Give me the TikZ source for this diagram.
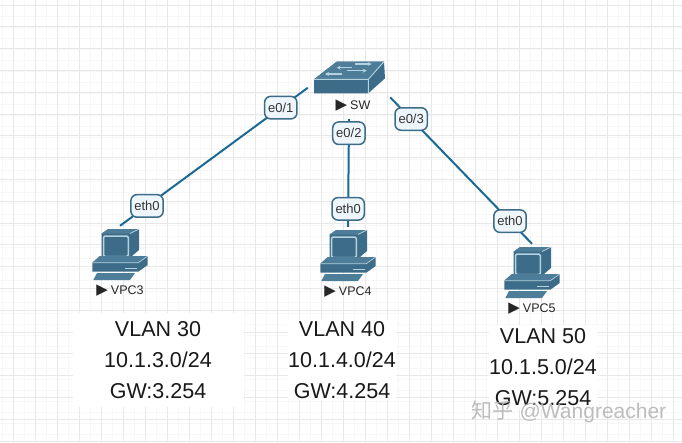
\documentclass[tikz,border=0pt]{standalone}
\usepackage{fontspec}
\usepackage{tikz}
\usetikzlibrary{positioning,arrows.meta}
\setmainfont{Liberation Sans}
\newfontfamily\symfont{DejaVu Sans}
\newfontfamily\cjkfont{Noto Sans CJK SC}
\definecolor{icondark}{HTML}{3C6C88}
\definecolor{iconmid}{HTML}{4D7D99}
\definecolor{iconrim}{HTML}{B4D2DF}
\definecolor{linkblue}{HTML}{1A6A94}
\definecolor{portfill}{HTML}{EEF6FC}
\tikzset{
pics/pcicon/.style={code={
  \fill[icondark] (-18.3,-16.5) -- (-11.7,-21) -- (19,-21) -- (19,0) -- (10,7.7) -- (-18.3,7.7) -- cycle;
  \fill[iconmid] (-18.3,-16.5) -- (-11.7,-21) -- (19,-21) -- (10,-16.5) -- cycle;
  \draw[iconrim, line width=0.7pt] (10,-16.5) -- (19,-21);
  \draw[iconrim, line width=1.5pt, rounded corners=1.5pt, fill=icondark] (-16.5,-14) rectangle (8.3,6.5);
  \fill[icondark] (-27.7,12.7) -- (-20,6) -- (27.7,6) -- (27.7,15) -- (18.3,21.7) -- (-27.7,21.7) -- cycle;
  \fill[iconmid] (-27.7,12.7) -- (-20,6) -- (27.7,6) -- (18.3,12.7) -- cycle;
  \draw[iconrim, line width=0.7pt] (-27.7,12.7) -- (18.3,12.7) -- (27.7,6);
  \draw[iconrim, line width=1.4pt] (5,18.3) -- (17.3,18.3);
  \fill[iconmid] (-23,23) -- (15,23) -- (10,30) -- (-26.7,30) -- cycle;
}},
pics/swicon/.style={code={
  \fill[icondark] (-35,0.3) -- (-12.3,-17.3) -- (35,-17.3) -- (36,-0.7) -- (19.3,14.3) -- (-35,14.3) -- cycle;
  \fill[iconmid] (-35,0.3) -- (-12.3,-17.3) -- (35,-17.3) -- (19.3,0.3) -- cycle;
  \draw[iconrim, line width=0.9pt] (-35,0.3) -- (19.3,0.3) -- (19.3,14.3) (19.3,0.3) -- (35,-17.3);
  \draw[iconrim, line width=1.2pt, -{Stealth[length=4pt,width=4pt]}] (2.7,-11.3) -- (-12.3,-11.3);
  \draw[iconrim, line width=1.2pt, -{Stealth[length=4pt,width=4pt]}] (6,-15) -- (22.7,-15);
  \draw[iconrim, line width=1.2pt, -{Stealth[length=4pt,width=4pt]}] (-7.3,-5) -- (-24,-5);
  \draw[iconrim, line width=1.2pt, -{Stealth[length=4pt,width=4pt]}] (-1.7,-8.3) -- (17.7,-8.3);
}}
}
\newcommand{\devname}[1]{{\symfont\fontsize{15}{15}\selectfont\char"25B6}\hspace{3pt}#1}
\begin{document}
\begin{tikzpicture}[
x=1pt, y=-1pt,
gridminor/.style={draw=black!3, line width=0.6pt},
gridmajor/.style={draw=black!9, line width=0.7pt},
switchnode/.style={rectangle, minimum width=82pt, minimum height=80pt, inner sep=0pt},
pcnode/.style={rectangle, minimum width=56pt, minimum height=48pt, inner sep=0pt},
devname/.style={font=\fontsize{12.5}{14}\selectfont, text=black!85, inner sep=1pt},
link/.style={draw=linkblue, line width=2pt},
port/.style={draw=icondark, fill=portfill, line width=1.5pt, rounded corners=6pt, text=black!80,
  font=\fontsize{13}{15}\selectfont, minimum height=22.5pt, inner xsep=3.5pt, inner ysep=2.5pt},
vlaninfo/.style={fill=white, align=center, inner sep=0pt, font=\fontsize{21.5}{31}\selectfont, text=black!90}
]
\useasboundingbox (0,0) rectangle (682,442);
\fill[white] (0,0) rectangle (682,442);
%Grid
\foreach \i in {0,...,61} \draw[gridminor] (2.5+11*\i,0) -- ++(0,442);
\foreach \i in {0,...,40} \draw[gridminor] (0,-6+11*\i) -- ++(682,0);
\foreach \i in {0,...,30} \draw[gridmajor] (13.5+22*\i,0) -- ++(0,442);
\foreach \i in {0,...,20} \draw[gridmajor] (0,5+21.8*\i) -- ++(682,0);
%Nodes
\node[switchnode] (sw)   at (349,79)  {};
\node[pcnode]     (vpc3) at (120,250) {};
\node[pcnode]     (vpc4) at (348,251) {};
\node[pcnode]     (vpc5) at (532,268) {};
\node[vlaninfo, minimum width=171pt, minimum height=94pt] (vlan30) at (158,360) {VLAN 30\\10.1.3.0/24\\GW:3.254};
\node[vlaninfo, minimum width=108pt, minimum height=80pt] (vlan40) at (342,360) {VLAN 40\\10.1.4.0/24\\GW:4.254};
\node[vlaninfo, minimum width=108pt, minimum height=84pt] (vlan50) at (543,367) {VLAN 50\\10.1.5.0/24\\GW:5.254};
\pic at (sw) {swicon};
\pic at (vpc3) {pcicon};
\pic at (vpc4) {pcicon};
\pic at (vpc5) {pcicon};
\node[devname] (swname)   at (353,106)          {\devname{SW}};
\node[devname] (vpc3name) [below=9pt of vpc3]   {\devname{VPC3}};
\node[devname] (vpc4name) [below=9pt of vpc4]   {\devname{VPC4}};
\node[devname] (vpc5name) [below=9pt of vpc5]   {\devname{VPC5}};
%Lines
\draw[link] (sw.192) -- (vpc3.north)
  node [port, pos=0.144] (p1) {e0/1}
  node [port, pos=0.856] (p2) {eth0};
\draw[link] (sw.south) -- (vpc4.north)
  node [port, pos=0.13] (p3) {e0/2}
  node [port, pos=0.833] (p4) {eth0};
\draw[link] (sw.336) -- (vpc5.north)
  node [port, pos=0.148] (p5) {e0/3}
  node [port, pos=0.845] (p6) {eth0};
%Watermark
\node[text=black!30, opacity=0.85, font=\fontsize{21}{23}\selectfont, inner sep=0pt] (mark) at (569,412) {{\cjkfont 知乎} @Wangreacher};
\end{tikzpicture}
\end{document}
